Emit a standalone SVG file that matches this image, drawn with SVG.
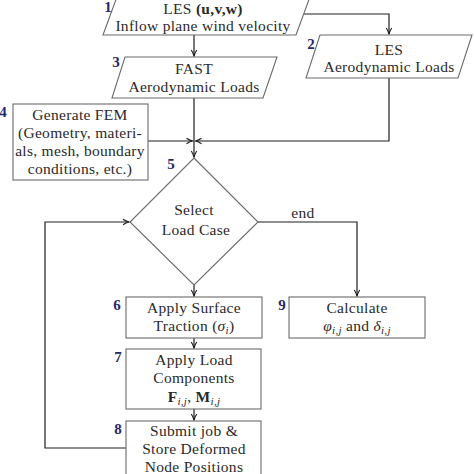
<svg xmlns="http://www.w3.org/2000/svg" width="474" height="474" viewBox="0 0 474 474">
<style>
.shape{fill:#fff;stroke:#6a6a6a;stroke-width:1.1}
.t{font-family:"Liberation Serif","DejaVu Serif",serif;font-size:15.5px;letter-spacing:0.3px;fill:#2a2a2a;text-anchor:middle}
.num{font-family:"Liberation Serif","DejaVu Serif",serif;font-size:15px;font-weight:bold;fill:#1f2a6b;text-anchor:middle}
.c{fill:none;stroke:#1e1e1e;stroke-width:1.2}
.it{font-style:italic}
.b{font-weight:bold}
</style>
<defs>
<marker id="ah" markerUnits="userSpaceOnUse" markerWidth="8" markerHeight="8" viewBox="0 0 8 8" refX="7" refY="4" orient="auto">
<path d="M1,1.3 Q4,3.2 7,4 Q4,4.8 1,6.7" fill="none" stroke="#1e1e1e" stroke-width="1.1"/>
</marker>
</defs>
<rect width="474" height="474" fill="#fff"/>
<g id="connectors">
<path class="c" d="M194,35 V56" marker-end="url(#ah)"/>
<path class="c" d="M304,14 H389 V34" marker-end="url(#ah)"/>
<path class="c" d="M194,98 V157" marker-end="url(#ah)"/>
<path class="c" d="M148,141 H192.5" marker-end="url(#ah)"/>
<path class="c" d="M389,78 V141 H195.5" marker-end="url(#ah)"/>
<path class="c" d="M194,285 V296" marker-end="url(#ah)"/>
<path class="c" d="M258,222 H357 V296" marker-end="url(#ah)"/>
<path class="c" d="M194,338 V348" marker-end="url(#ah)"/>
<path class="c" d="M194,409 V420" marker-end="url(#ah)"/>
<path class="c" d="M126,448 H45 V222 H129" marker-end="url(#ah)"/>
<text class="t" x="303" y="218">end</text>
</g>
<g id="node1">
<polygon class="shape" points="118,-6 311,-6 296,35 103,35"/>
<text class="t" x="203" y="14">LES <tspan class="b">(u,v,w)</tspan></text>
<text class="t" x="203" y="31">Inflow plane wind velocity</text>
<text class="num" x="108" y="12">1</text>
</g>
<g id="node2">
<polygon class="shape" points="320,35 472,35 458,78 306,78"/>
<text class="t" x="389" y="55">LES</text>
<text class="t" x="389" y="72">Aerodynamic Loads</text>
<text class="num" x="311" y="49">2</text>
</g>
<g id="node3">
<polygon class="shape" points="125,57 277,57 263,98 112,98"/>
<text class="t" x="194" y="74">FAST</text>
<text class="t" x="194" y="92">Aerodynamic Loads</text>
<text class="num" x="116" y="67">3</text>
</g>
<g id="node4">
<rect class="shape" x="13" y="104" width="135" height="76"/>
<text class="t" x="80" y="120">Generate FEM</text>
<text class="t" x="80" y="138">(Geometry, materi-</text>
<text class="t" x="80" y="156">als, mesh, boundary</text>
<text class="t" x="80" y="174">conditions, etc.)</text>
<text class="num" x="3" y="117">4</text>
</g>
<g id="node5">
<polygon class="shape" points="194,158 258,222 194,285 130,222"/>
<text class="t" x="194" y="215">Select</text>
<text class="t" x="196" y="235">Load Case</text>
<text class="num" x="171" y="169">5</text>
</g>
<g id="node6">
<rect class="shape" x="126" y="297" width="136" height="41"/>
<text class="t" x="194" y="313">Apply Surface</text>
<text class="t" x="194" y="331">Traction (<tspan class="it">σ</tspan><tspan class="it" font-size="11" dy="3">i</tspan><tspan dy="-3">)</tspan></text>
<text class="num" x="117" y="310">6</text>
</g>
<g id="node9">
<rect class="shape" x="289" y="297" width="136" height="41"/>
<text class="t" x="357" y="313">Calculate</text>
<text class="t" x="357" y="331"><tspan class="it">φ</tspan><tspan class="it" font-size="11" dy="3">i,j</tspan><tspan dy="-3"> and </tspan><tspan class="it">δ</tspan><tspan class="it" font-size="11" dy="3">i,j</tspan></text>
<text class="num" x="282" y="310">9</text>
</g>
<g id="node7">
<rect class="shape" x="126" y="349" width="135" height="60"/>
<text class="t" x="194" y="365">Apply Load</text>
<text class="t" x="194" y="383">Components</text>
<text class="t" x="194" y="402"><tspan class="b">F</tspan><tspan class="it" font-size="11" dy="3">i,j</tspan><tspan dy="-3">, </tspan><tspan class="b">M</tspan><tspan class="it" font-size="11" dy="3">i,j</tspan></text>
<text class="num" x="118" y="362">7</text>
</g>
<g id="node8">
<rect class="shape" x="126" y="421" width="135" height="60"/>
<text class="t" x="194" y="436">Submit job &amp;</text>
<text class="t" x="194" y="454">Store Deformed</text>
<text class="t" x="194" y="472">Node Positions</text>
<text class="num" x="118" y="434">8</text>
</g>
</svg>
